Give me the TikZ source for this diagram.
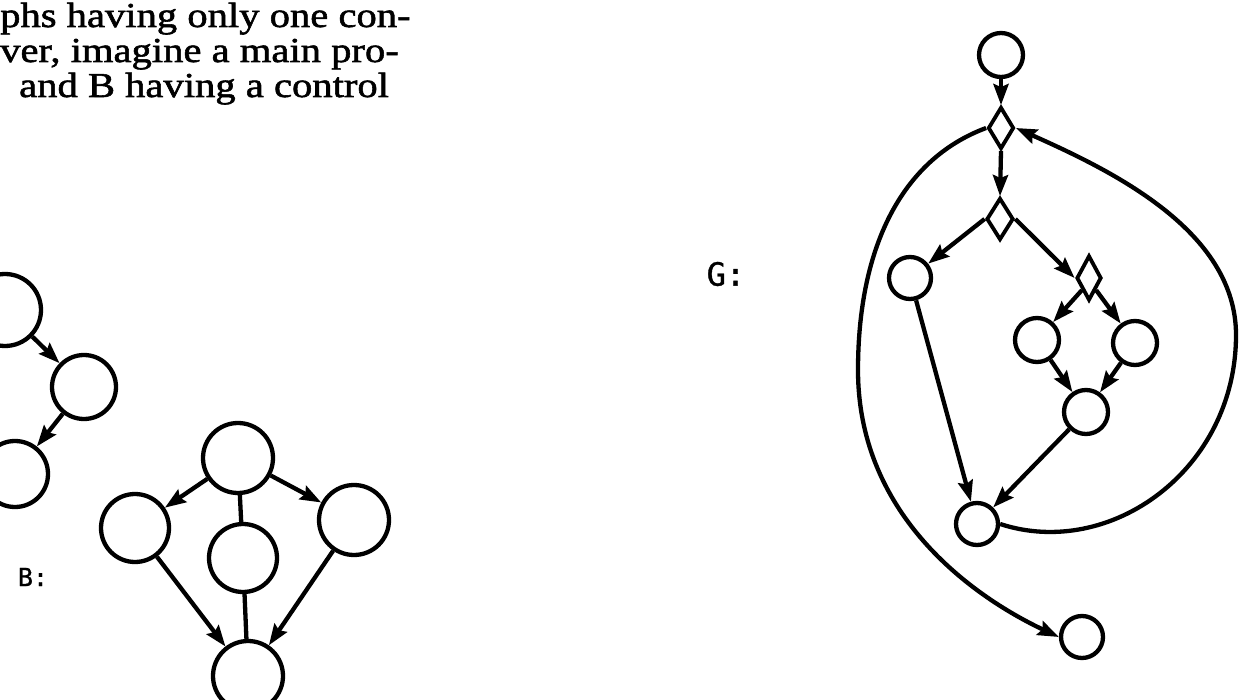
\documentclass[tikz,border=0pt]{standalone}
\usepackage{fontspec}
\newfontfamily\bodyfont[FakeStretch=1.16,FakeBold=1.6]{Liberation Serif}
\newfontfamily\labfont[FakeBold=1]{DejaVu Sans Mono}
\usetikzlibrary{arrows.meta,shapes.geometric}
\begin{document}
\begin{tikzpicture}[x=1pt,y=-1pt,
 vtx/.style={circle,draw,line width=4.3pt,inner sep=0pt,minimum size=#1},
 dec/.style={diamond,draw,line width=3.8pt,inner sep=0pt,minimum width=#1,minimum height=42pt},
 arr/.style={line width=4.3pt,-{Stealth[length=21pt,width=15pt,inset=3pt]}},
 ln/.style={line width=4.3pt},
 body/.style={font=\bodyfont\fontsize{35}{40}\selectfont,anchor=base west,inner sep=0pt},
 lab/.style={font=\labfont,inner sep=0pt}]
\useasboundingbox (0,0) rectangle (1239,700);
% text
\node[body] (t1) at (0,27) {phs having only one con-};
\node[body] (t2) at (0,62) {ver, imagine a main pro-};
\node[body] (t3) at (19,97) {and B having a control};
% A graph
\node[vtx=72pt] (a1) at (5,310) {};
\node[vtx=64pt] (a2) at (84,387) {};
\node[vtx=66pt] (a3) at (15,474) {};
\draw[arr] (a1) -- (a2);
\draw[arr] (a2) -- (a3);
% B graph
\node[lab,font=\labfont\fontsize{25}{28}\selectfont] (blab) at (33,577) {B:};
\node[vtx=70pt] (bt) at (238,458) {};
\node[vtx=68pt] (bl) at (135,528) {};
\node[vtx=68pt] (bm) at (243,558) {};
\node[vtx=70pt] (br) at (354,520) {};
\node[vtx=70pt] (bb) at (248,676) {};
\draw[arr] (bt) -- (bl);
\draw[arr] (bt) -- (br);
\draw[ln] (bt) -- (bm);
\draw[arr] (bl) -- (bb);
\draw[ln] (bm) -- (bb);
\draw[arr] (br) -- (bb);
% G graph
\node[lab,font=\labfont\fontsize{32}{36}\selectfont] (glab) at (726,274) {G:};
\node[vtx=44pt] (g0) at (1001,55) {};
\node[dec=26pt] (d1) at (1001,128) {};
\node[dec=27pt] (d2) at (1000,219) {};
\node[vtx=42pt] (gl) at (910,278) {};
\node[dec=25pt,minimum height=45pt] (d3) at (1089,278) {};
\node[vtx=44pt] (gml) at (1037,340) {};
\node[vtx=44pt] (gmr) at (1135,343) {};
\node[vtx=44pt] (gc) at (1086,412) {};
\node[vtx=42pt] (gm) at (977,524) {};
\node[vtx=42pt] (gf) at (1082,637) {};
\draw[arr] (g0) -- (d1.north);
\draw[arr] (d1.south) -- (d2.north);
\draw[arr] (d2.west) -- (gl);
\draw[arr] (d2.east) -- (d3.west);
\draw[arr] (d3.south west) -- (gml);
\draw[arr] (d3.south east) -- (gmr);
\draw[arr] (gml) -- (gc);
\draw[arr] (gmr) -- (gc);
\draw[arr] (gc) -- (gm);
\draw[arr] (gl) -- (gm);
\draw[arr] (gm.east) .. controls (1110,560) and (1236,470) .. (1236,335)
  .. controls (1236,230) and (1110,170) .. (d1.east);
\draw[arr] (d1.west) .. controls (900,160) and (858,250) .. (858,370)
  .. controls (858,520) and (980,600) .. (gf.west);
\end{tikzpicture}
\end{document}
